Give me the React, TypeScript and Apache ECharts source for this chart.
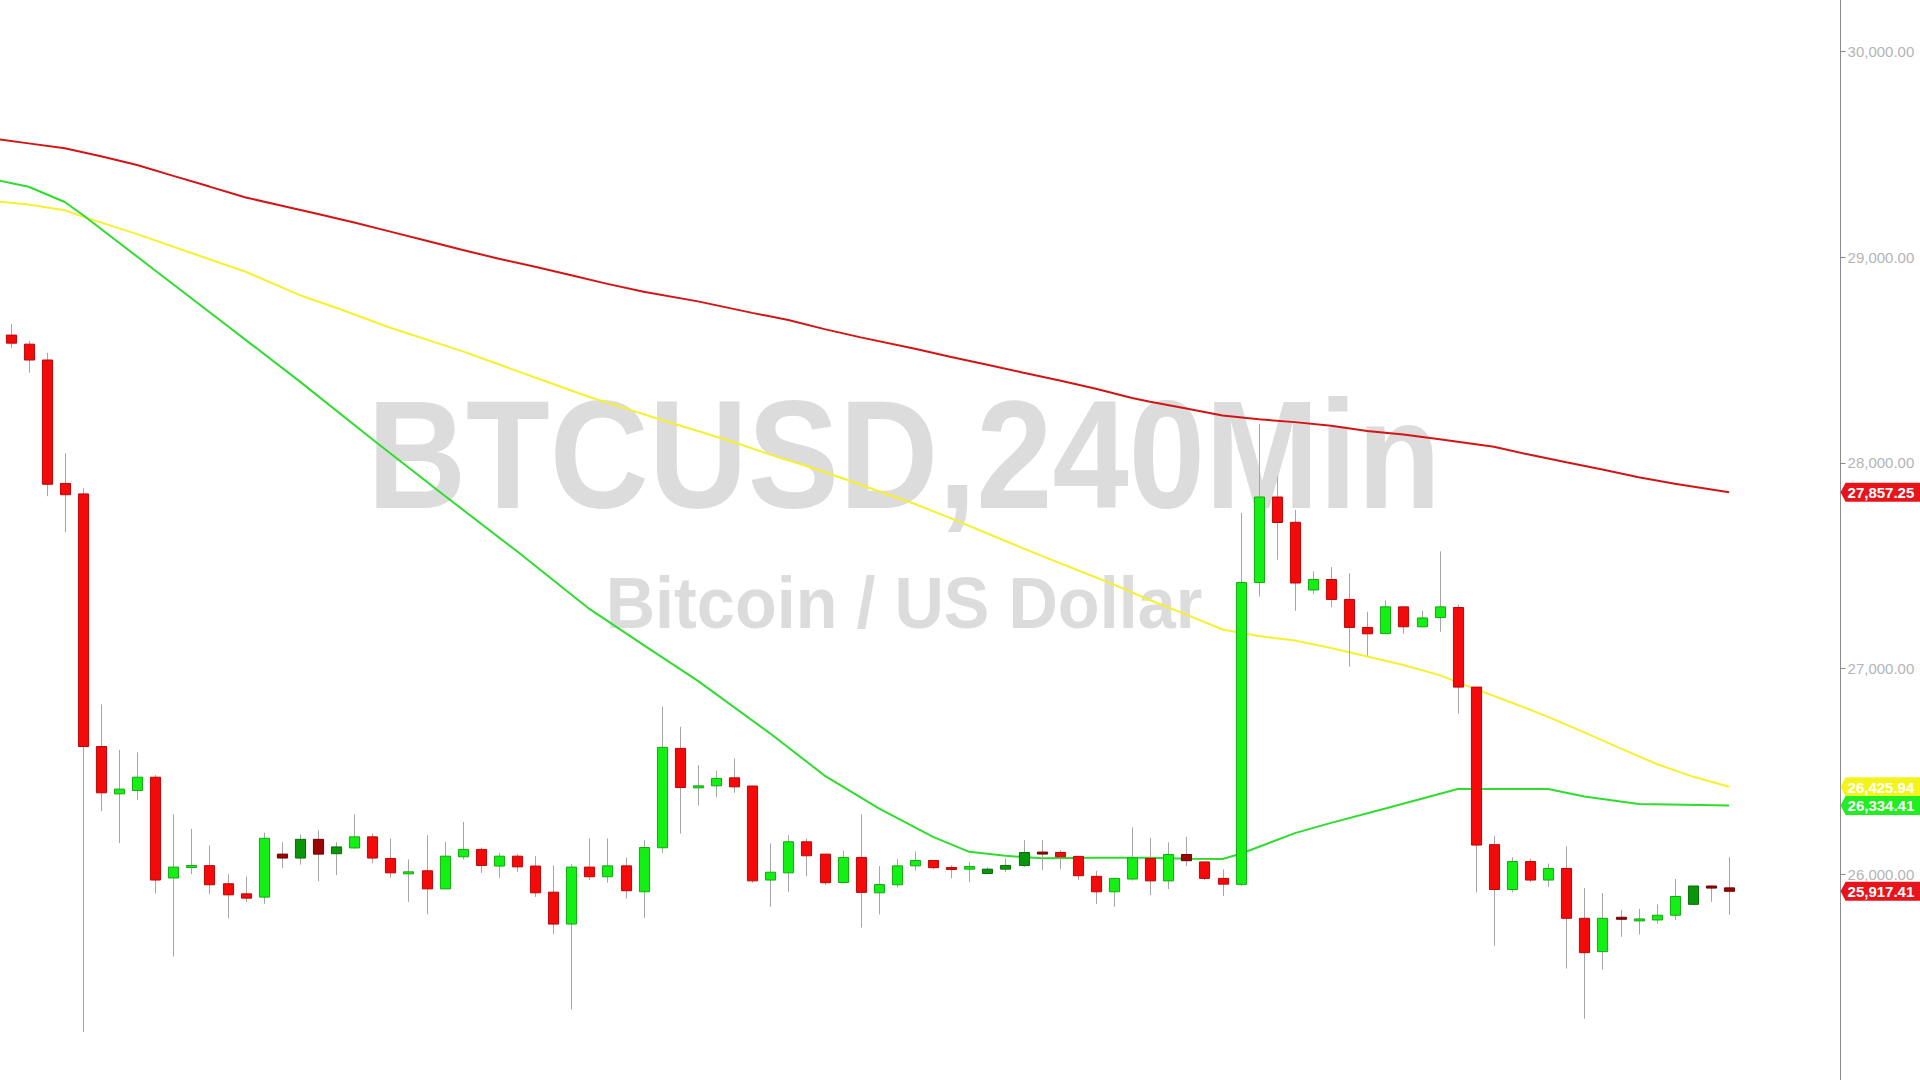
import React, { useEffect, useRef } from "react";
import * as echarts from "echarts";

// ---- candle data (4h bars, oldest first) ----
const OPEN = [
  28621, 28577, 28500, 27900, 27849, 26621, 26391, 26407, 26472, 25982,
  26040, 26042, 25954, 25905, 25889, 26098, 26079, 26170, 26100, 26128,
  26182, 26077, 26010, 26017, 25929, 26085, 26121, 26040, 26088, 26040,
  25913, 25758, 26035, 25988, 26041, 25915, 26129, 26612, 26422, 26430,
  26469, 26429, 25972, 26007, 26158, 26098, 25960, 26082, 25910, 25949,
  26041, 26067, 26033, 26025, 26004, 26025, 26043, 26108, 26106, 26087,
  25990, 25915, 25977, 26077, 25968, 26096, 26060, 25980, 25951, 27418,
  27834, 27711, 27382, 27433, 27336, 27200, 27170, 27300, 27203, 27248,
  27297, 26910, 26144, 25926, 26062, 25972, 26028, 25786, 25624, 25791,
  25781, 25778, 25801, 25854, 25943, 25934,
];
const CLOSE = [
  28582, 28500, 27896, 27845, 26621, 26396, 26414, 26472, 25972, 26035,
  26043, 25949, 25900, 25884, 26175, 26079, 26170, 26098, 26133, 26182,
  26079, 26007, 26012, 25929, 26088, 26121, 26043, 26088, 26036, 25910,
  25758, 26035, 25988, 26041, 25920, 26130, 26617, 26422, 26430, 26466,
  26425, 25968, 26010, 26158, 26090, 25959, 26082, 25912, 25950, 26041,
  26067, 26032, 26025, 26038, 26025, 26043, 26106, 26102, 26085, 25993,
  25915, 25980, 26080, 25968, 26096, 26066, 25980, 25952, 27418, 27834,
  27710, 27416, 27433, 27336, 27200, 27169, 27300, 27203, 27246, 27300,
  26910, 26142, 25926, 26062, 25972, 26028, 25786, 25619, 25786, 25783,
  25783, 25801, 25892, 25943, 25933, 25917.41,
];
const LOW = [
  28558, 28438, 27838, 27663, 25233, 26307, 26152, 26361, 25907, 25600,
  26000, 25903, 25786, 25865, 25856, 26031, 26047, 25966, 25996, 26125,
  26054, 25983, 25866, 25805, 25929, 26072, 26007, 25983, 26012, 25890,
  25709, 25343, 25972, 25959, 25882, 25788, 26104, 26198, 26336, 26374,
  26396, 25959, 25842, 25915, 25991, 25947, 25960, 25741, 25805, 25936,
  26017, 26024, 25980, 25963, 26001, 26012, 26036, 26020, 26024, 25972,
  25855, 25842, 25969, 25899, 25928, 26040, 25972, 25894, 25943, 27350,
  27529, 27281, 27362, 27298, 27009, 27063, 27170, 27170, 27200, 27179,
  26782, 25912, 25653, 25912, 25963, 25939, 25542, 25298, 25537, 25696,
  25707, 25759, 25778, 25849, 25866, 25803,
];
const HIGH = [
  28675, 28593, 28535, 28047, 27877, 26826, 26605, 26593, 26482, 26291,
  26221, 26140, 26000, 25989, 26203, 26156, 26193, 26214, 26156, 26291,
  26198, 26174, 26072, 26190, 26158, 26255, 26130, 26104, 26098, 26088,
  26043, 26049, 26174, 26174, 26082, 26166, 26814, 26717, 26531, 26503,
  26563, 26431, 26150, 26190, 26174, 26098, 26114, 26291, 26040, 26074,
  26111, 26068, 26044, 26061, 26033, 26077, 26166, 26166, 26117, 26088,
  26017, 25982, 26228, 26177, 26155, 26182, 26060, 26023, 27757, 28190,
  27933, 27771, 27472, 27493, 27464, 27276, 27331, 27300, 27281, 27570,
  27310, 26910, 26185, 26083, 26076, 26052, 26136, 25934, 25909, 25827,
  25832, 25854, 25977, 25943, 25945, 26083,
];
// u = up, d = down, U = dark up, D = dark down
const TONE = [
  "d", "d", "d", "d", "d", "d", "u", "u", "d", "u",
  "u", "d", "d", "d", "u", "D", "U", "D", "U", "u",
  "d", "d", "u", "d", "u", "u", "d", "u", "d", "d",
  "d", "u", "d", "u", "d", "u", "u", "d", "u", "u",
  "d", "d", "u", "u", "d", "d", "u", "d", "u", "u",
  "u", "d", "d", "u", "U", "U", "U", "D", "d", "d",
  "d", "u", "u", "d", "u", "D", "d", "d", "u", "u",
  "d", "d", "u", "d", "d", "d", "u", "d", "u", "u",
  "d", "d", "d", "u", "d", "u", "d", "d", "u", "D",
  "u", "u", "u", "U", "D", "D",
];

// ---- moving averages: [bar position, value] ----
const MA_RED: [number, number][] = [
  [-0.6, 29572], [1, 29553], [3, 29529], [5, 29490], [7, 29448], [9, 29395],
  [11, 29343], [13, 29290], [15, 29250], [17, 29210], [19, 29168], [21, 29124],
  [23, 29080], [25, 29035], [27, 28992], [29, 28953], [31, 28912], [33, 28870],
  [35, 28832], [38, 28785], [41, 28729], [43, 28694], [45, 28650], [47, 28610],
  [50, 28555], [52, 28515], [54, 28477], [56, 28438], [58, 28400], [60, 28360],
  [62, 28315], [63, 28297], [65, 28264], [67, 28230], [69, 28212], [71, 28198],
  [73, 28180], [75, 28155], [77, 28138], [79, 28115], [82, 28078], [84, 28039],
  [86, 28003], [88, 27968], [90, 27930], [92, 27898], [95, 27857.25],
];
const MA_YELLOW: [number, number][] = [
  [-0.6, 29270], [1, 29256], [3, 29228], [4, 29197], [7, 29112], [10, 29020],
  [13, 28929], [16, 28815], [18, 28754], [21, 28657], [25, 28542], [29, 28415],
  [32, 28320], [34, 28265], [36, 28208], [38, 28155], [40, 28100], [42, 28040],
  [44, 27985], [46, 27925], [48, 27862], [50, 27800], [52, 27730], [55, 27620],
  [57, 27548], [59, 27478], [61, 27408], [63, 27332], [65, 27262], [67, 27190],
  [69, 27158], [71, 27136], [73, 27100], [75, 27059], [77, 27017], [79, 26968],
  [81, 26900], [83, 26834], [85, 26765], [87, 26690], [89, 26612], [91, 26536],
  [93, 26475], [95, 26425.94],
];
const MA_GREEN: [number, number][] = [
  [-0.6, 29372], [1, 29342], [3, 29268], [4, 29205], [8, 28935], [12, 28665],
  [16, 28395], [20, 28115], [24, 27840], [28, 27570], [32, 27290], [35, 27114],
  [38, 26940], [42, 26684], [45, 26480], [48, 26320], [51, 26182], [53, 26109],
  [55, 26090], [57, 26078], [60, 26080], [63, 26080], [65, 26076], [67, 26074],
  [68, 26100], [71, 26200], [73, 26250], [76, 26320], [80, 26415], [85, 26415],
  [87, 26378], [90, 26342], [95, 26334.41],
];

// ---- last-value tags on the price scale ----
const TAG_VALUES = [27857.25, 26425.94, 26334.41, 25917.41];
const TAG_COLORS = ["#e8141c", "#f4f41c", "#22ec22", "#e8141c"];

// ---- axis ----
const Y_MIN = 25000;
const Y_MAX = 30250;
const Y_STEP = 1000;

const TRAIL = 5; // empty bar slots after the last bar
const SLOTS = OPEN.length + TRAIL;

const TITLE = "BTCUSD,240Min";
const SUBTITLE = "Bitcoin / US Dollar";

const BAND = 18.09;
const AXIS_OFFSET = 12;
const FONT = '"Liberation Sans", Arial, Helvetica, sans-serif';

const TONE_FILL: Record<string, string> = { u: "#14f014", d: "#f50a0a", U: "#0a960a", D: "#9a0505" };
const TONE_STROKE: Record<string, string> = { u: "#13a813", d: "#b80808", U: "#076a07", D: "#6a0303" };
const TONE_LIST = ["u", "d", "U", "D"];

const fmt = (v: number) =>
  v.toLocaleString("en-US", { minimumFractionDigits: 2, maximumFractionDigits: 2 });

export default function App() {
  const ref = useRef<HTMLDivElement>(null);

  useEffect(() => {
    if (!ref.current) return;
    const chart = echarts.init(ref.current, undefined, { renderer: "svg" });

    const candleData = OPEN.map((o, i) => [i, o, CLOSE[i], LOW[i], HIGH[i], TONE_LIST.indexOf(TONE[i])]);

    const gridLeft = 10.5 - BAND * 0.5;
    const gridWidth = BAND * SLOTS;

    const lineSeries = (name: string, pts: [number, number][], color: string) => ({
      name,
      type: "line",
      data: pts,
      showSymbol: false,
      smooth: false,
      clip: false,
      z: 3,
      lineStyle: { color, width: 2 },
    });

    const option: any = {
      animation: false,
      backgroundColor: "#ffffff",
      grid: { left: gridLeft, top: 0, width: gridWidth, height: 1080 },
      xAxis: {
        type: "value",
        min: -0.5,
        max: SLOTS - 0.5,
        show: false,
        splitLine: { show: false },
        axisLine: { onZero: false },
      },
      yAxis: {
        type: "value",
        position: "right",
        offset: AXIS_OFFSET,
        min: Y_MIN,
        max: Y_MAX,
        interval: Y_STEP,
        splitLine: { show: false },
        axisLine: { show: true, onZero: false, lineStyle: { color: "#8a8a8a", width: 1 } },
        axisTick: { show: true, inside: false, length: 5, lineStyle: { color: "#8a8a8a" } },
        axisLabel: {
          show: true,
          margin: 7,
          color: "#b4b4b4",
          fontSize: 15,
          fontFamily: FONT,
          showMinLabel: false,
          showMaxLabel: false,
          formatter: (v: number) => fmt(v),
        },
      },
      graphic: [
        {
          type: "text",
          x: 904,
          y: 455,
          scaleX: 0.89,
          z: 0,
          silent: true,
          style: {
            text: TITLE,
            fill: "#dcdcdc",
            font: `bold 154px ${FONT}`,
            align: "center",
            verticalAlign: "middle",
            textAlign: "center",
            textVerticalAlign: "middle",
          },
        },
        {
          type: "text",
          x: 904,
          y: 603,
          scaleX: 0.95,
          z: 0,
          silent: true,
          style: {
            text: SUBTITLE,
            fill: "#dcdcdc",
            font: `bold 72px ${FONT}`,
            align: "center",
            verticalAlign: "middle",
            textAlign: "center",
            textVerticalAlign: "middle",
          },
        },
      ],
      series: [
        lineSeries("MA red", MA_RED, "#d41414"),
        lineSeries("MA yellow", MA_YELLOW, "#f6f02e"),
        lineSeries("MA green", MA_GREEN, "#2fdc2f"),
        {
          name: "BTCUSD",
          type: "custom",
          z: 4,
          encode: { x: 0, y: [1, 2, 3, 4] },
          data: candleData,
          renderItem: (params: any, api: any) => {
            const x = api.value(0);
            const o = api.value(1);
            const c = api.value(2);
            const l = api.value(3);
            const h = api.value(4);
            const t = TONE_LIST[api.value(5)];
            const pO = api.coord([x, o]);
            const pC = api.coord([x, c]);
            const pL = api.coord([x, l]);
            const pH = api.coord([x, h]);
            const w = api.size([1, 0])[0] * 0.56;
            const cx = Math.round(pO[0]) + 0.5;
            const top = Math.min(pO[1], pC[1]);
            const bh = Math.max(Math.abs(pO[1] - pC[1]), 2);
            return {
              type: "group",
              children: [
                {
                  type: "line",
                  shape: { x1: cx, y1: pH[1], x2: cx, y2: pL[1] },
                  style: { stroke: "#a6a6a6", lineWidth: 1 },
                },
                {
                  type: "rect",
                  shape: { x: cx - w / 2, y: top, width: w, height: bh },
                  style: { fill: TONE_FILL[t], stroke: TONE_STROKE[t], lineWidth: 1 },
                },
              ],
            };
          },
        },
        {
          name: "tags",
          type: "custom",
          z: 10,
          clip: false,
          silent: true,
          encode: { x: 0, y: 1 },
          data: TAG_VALUES.map((v, i) => [0, v, i]),
          renderItem: (params: any, api: any) => {
            const v = api.value(1);
            const i = api.value(2);
            const y = api.coord([0, v])[1];
            const cs = params.coordSys;
            const ax = cs.x + cs.width + AXIS_OFFSET;
            const right = api.getWidth();
            const hh = 9.5;
            return {
              type: "group",
              children: [
                {
                  type: "polygon",
                  shape: {
                    points: [
                      [ax, y],
                      [ax + 5, y - hh],
                      [right, y - hh],
                      [right, y + hh],
                      [ax + 5, y + hh],
                    ],
                  },
                  style: { fill: TAG_COLORS[i] },
                },
                {
                  type: "text",
                  x: ax + 7,
                  y: y + 0.5,
                  style: {
                    text: fmt(v),
                    fill: "#ffffff",
                    font: `bold 15px ${FONT}`,
                    align: "left",
                    verticalAlign: "middle",
                    textAlign: "left",
                    textVerticalAlign: "middle",
                  },
                },
              ],
            };
          },
        },
      ],
    };

    chart.setOption(option);
    return () => chart.dispose();
  }, []);

  return (
    <div
      ref={ref}
      style={{ position: "absolute", left: 0, top: 0, width: 1920, height: 1080, background: "#fff" }}
    />
  );
}
